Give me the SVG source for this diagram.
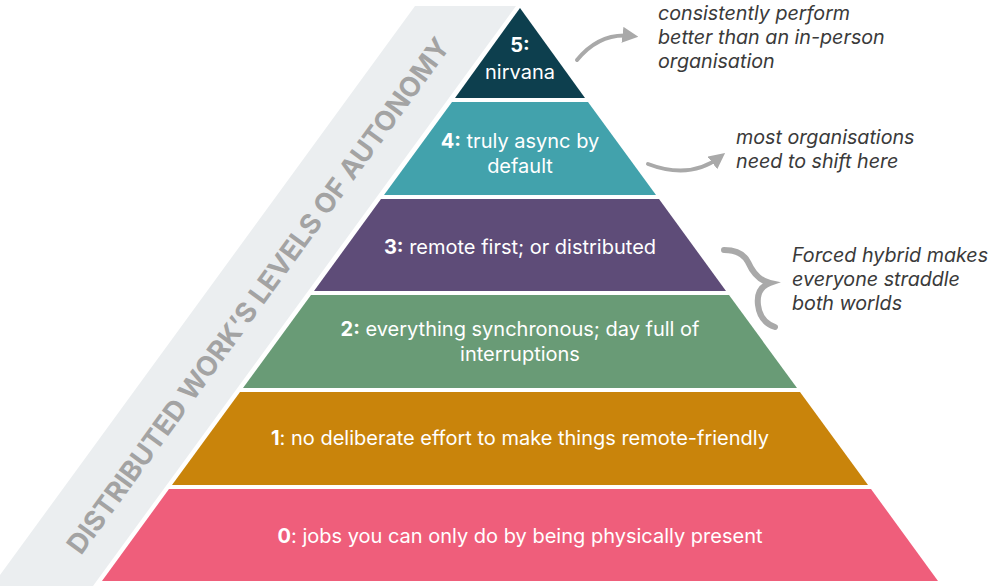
<svg xmlns="http://www.w3.org/2000/svg" width="1000" height="586" viewBox="0 0 1000 586">
<style>
.t{font-family:Inter,"Liberation Sans",sans-serif;font-size:20px;fill:#fff;text-anchor:middle}
.b{font-weight:bold}
.a{font-family:Inter,"Liberation Sans",sans-serif;font-size:19.7px;font-style:italic;fill:#3a3a3a}
.c{fill:none;stroke:#a9a9a9;stroke-width:4;stroke-linecap:round}
</style>
<defs><marker id="ah" viewBox="0 0 10 10" refX="6" refY="5" markerWidth="4" markerHeight="4" orient="auto"><path d="M0,0L10,5L0,10z" fill="#a9a9a9"/></marker></defs>
<rect width="1000" height="586" fill="#fff"/>
<polygon points="415,6 516,6 93,586 -8,586" fill="#ebeef0"/>
<text transform="translate(260,297) rotate(-54)" font-family="Inter,'Liberation Sans',sans-serif" font-size="27.5" font-weight="bold" fill="#a3a3a3" text-anchor="middle" dominant-baseline="middle">DISTRIBUTED WORK’S LEVELS OF AUTONOMY</text>
<g id="l5"><polygon points="520,8 585,98 455,98" fill="#0d3f4e"/><text class="t" x="520" y="52"><tspan class="b">5:</tspan></text><text class="t" x="520" y="79">nirvana</text></g>
<g id="l4"><polygon points="452,102 588,102 656,195 384,195" fill="#42a2ac"/><text class="t" x="520" y="148"><tspan class="b">4:</tspan> truly async by</text><text class="t" x="520" y="173">default</text></g>
<g id="l3"><polygon points="381,199 659,199 726,291 314,291" fill="#5e4c78"/><text class="t" x="520" y="254"><tspan class="b">3:</tspan> remote first; or distributed</text></g>
<g id="l2"><polygon points="311,295 729,295 797,388 243,388" fill="#699b76"/><text class="t" x="520" y="336"><tspan class="b">2:</tspan> everything synchronous; day full of</text><text class="t" x="520" y="361">interruptions</text></g>
<g id="l1"><polygon points="240,392 800,392 868,485 172,485" fill="#c9840b"/><text class="t" x="520" y="445"><tspan class="b">1</tspan>: no deliberate effort to make things remote-friendly</text></g>
<g id="l0"><polygon points="169,489 871,489 938,581 102,581" fill="#ef5e7b"/><text class="t" x="520" y="543"><tspan class="b">0</tspan>: jobs you can only do by being physically present</text></g>
<g id="connectors">
<path class="c" d="M577,60 Q600,32 632,36" marker-end="url(#ah)"/>
<path class="c" d="M648,164 Q690,180 720,157" marker-end="url(#ah)"/>
<path class="c" style="stroke-width:6" d="M724,250 Q742,250 748,262 Q756,280 770,283 Q756,288 758,305 Q760,322 775,327"/>
</g>
<g id="n1"><text class="a" x="658" y="20">consistently perform</text><text class="a" x="658" y="44">better than an in-person</text><text class="a" x="658" y="68">organisation</text></g>
<g id="n2"><text class="a" x="736" y="144">most organisations</text><text class="a" x="736" y="168">need to shift here</text></g>
<g id="n3"><text class="a" x="792" y="262">Forced hybrid makes</text><text class="a" x="792" y="286">everyone straddle</text><text class="a" x="792" y="310">both worlds</text></g>
</svg>
